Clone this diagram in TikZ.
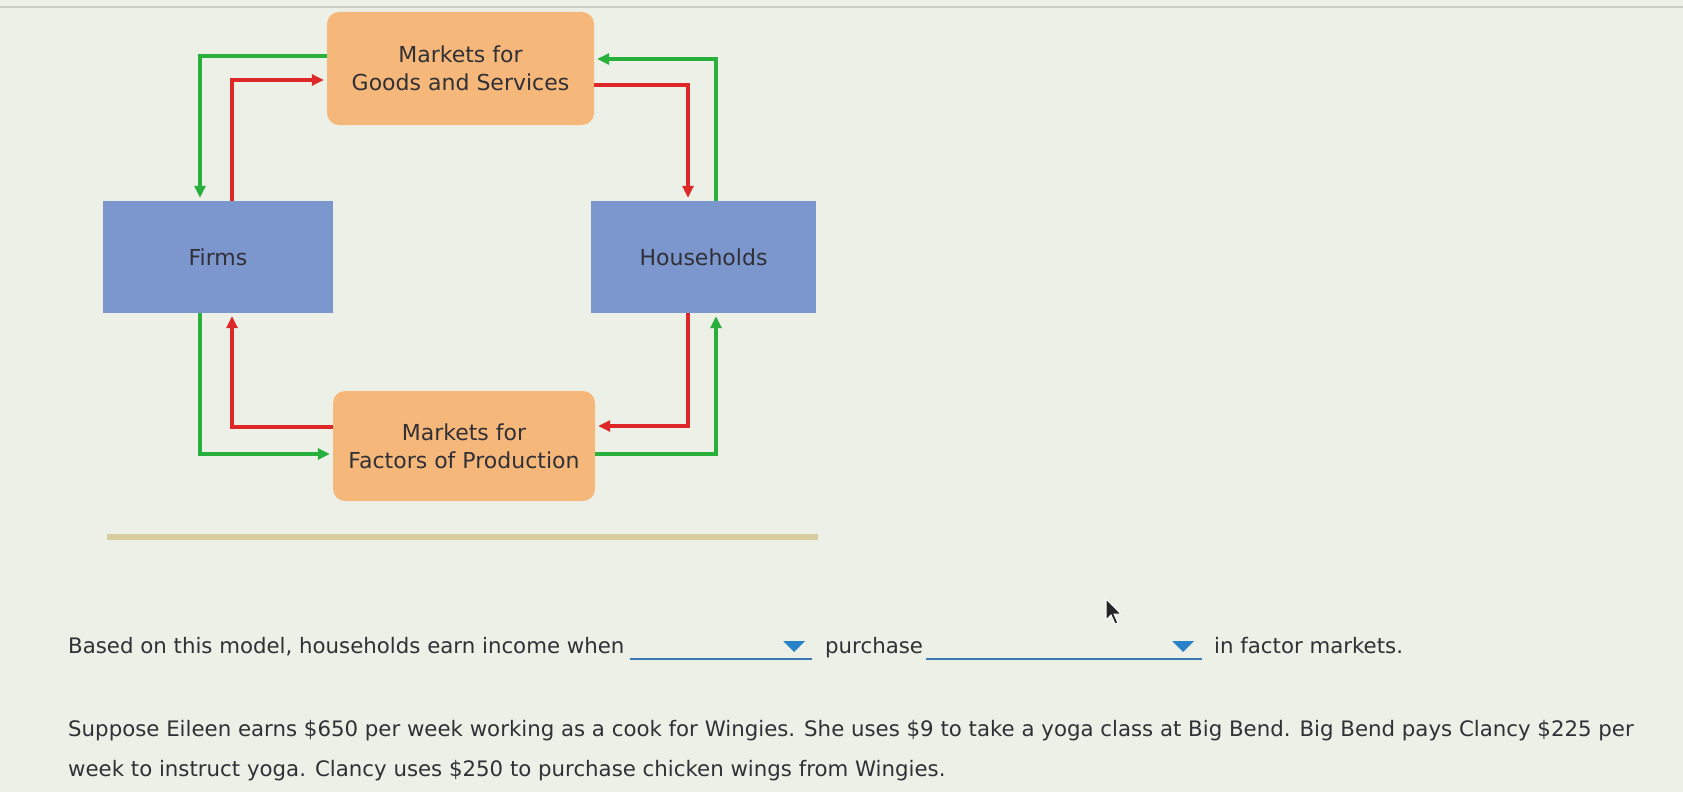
\documentclass[tikz,border=0pt]{standalone}
\usepackage{fontspec}
\setmainfont{DejaVu Sans}
\usetikzlibrary{arrows.meta}
\definecolor{bgc}{RGB}{237,240,231}
\definecolor{orangebox}{RGB}{246,184,122}
\definecolor{bluebox}{RGB}{124,150,206}
\definecolor{grn}{RGB}{40,175,60}
\definecolor{rd}{RGB}{222,40,40}
\definecolor{txt}{RGB}{48,48,54}
\definecolor{sepc}{RGB}{214,204,160}
\definecolor{ddblue}{RGB}{60,120,180}
\definecolor{tri}{RGB}{40,130,200}
\definecolor{topline}{RGB}{200,204,196}
\begin{document}
\begin{tikzpicture}[x=1pt,y=-1pt,
  mkt/.style={fill=orangebox, rounded corners=12pt, align=center, text=txt,
    font=\fontsize{22}{28}\selectfont, inner sep=0pt},
  agent/.style={fill=bluebox, text=txt, font=\fontsize{22}{28}\selectfont, inner sep=0pt},
  gflow/.style={draw=grn, line width=4pt, -{Triangle[length=12pt,width=11pt]}, shorten >=3pt},
  rflow/.style={draw=rd, line width=3.5pt, -{Triangle[length=12pt,width=11pt]}, shorten >=3pt},
  body/.style={text=txt, font=\fontsize{21.3}{26}\selectfont, inner sep=0pt, anchor=base west}]

\fill[bgc] (0,0) rectangle (1683,792);
\useasboundingbox (0,0) rectangle (1683,792);
\draw[topline, line width=2pt] (0,7) -- (1683,7);

% nodes
\node[mkt, minimum width=267pt, minimum height=113pt] (goods) at (460.5,68.5) {Markets for\\Goods and Services};
\node[agent, minimum width=230pt, minimum height=112pt] (firms) at (218,257) {Firms};
\node[agent, minimum width=225pt, minimum height=112pt] (house) at (703.5,257) {Households};
\node[mkt, minimum width=262pt, minimum height=110pt] (factors) at (464,446) {Markets for\\Factors of Production};

% top-left
\draw[gflow] ([yshift=12.5pt]goods.west) -| ([xshift=-18pt]firms.north);
\draw[rflow] ([xshift=14pt]firms.north) |- ([yshift=-11.5pt]goods.west);
% top-right
\draw[gflow] ([xshift=12.5pt]house.north) |- ([yshift=9.5pt]goods.east);
\draw[rflow] ([yshift=-16.5pt]goods.east) -| ([xshift=-15.5pt]house.north);
% bottom-left
\draw[gflow] ([xshift=-18pt]firms.south) |- ([yshift=-8pt]factors.west);
\draw[rflow] ([yshift=19pt]factors.west) -| ([xshift=14pt]firms.south);
% bottom-right
\draw[rflow] ([xshift=-15.5pt]house.south) |- ([yshift=20pt]factors.east);
\draw[gflow] ([yshift=-8pt]factors.east) -| ([xshift=12.5pt]house.south);

% separator
\draw[sepc, line width=6pt] (107,537) -- (818,537);

% question line
\node[body] (q1) at (68,653) {Based on this model, households earn income when};
\draw[ddblue, line width=2pt] (630,659) -- (812,659);
\fill[tri] (783,641) -- (805,641) -- (794,652) -- cycle;
\node[body] (q2) at (825,653) {purchase};
\draw[ddblue, line width=2pt] (926,659) -- (1202,659);
\fill[tri] (1172,641) -- (1194,641) -- (1183,652) -- cycle;
\node[body] (q3) at (1214,653) {in factor markets.};

% paragraph
\node[body] (p1) at (68,736) {Suppose Eileen earns \$650 per week working as a cook for Wingies. She uses \$9 to take a yoga class at Big Bend. Big Bend pays Clancy \$225 per};
\node[body] (p2) at (68,776) {week to instruct yoga. Clancy uses \$250 to purchase chicken wings from Wingies.};

% mouse cursor
\filldraw[fill=black!85, draw=white, line width=1pt]
  (1106,599) -- (1106,620) -- (1111,615) -- (1115,624) -- (1118,623) -- (1114,614) -- (1121,614) -- cycle;
\end{tikzpicture}
\end{document}
